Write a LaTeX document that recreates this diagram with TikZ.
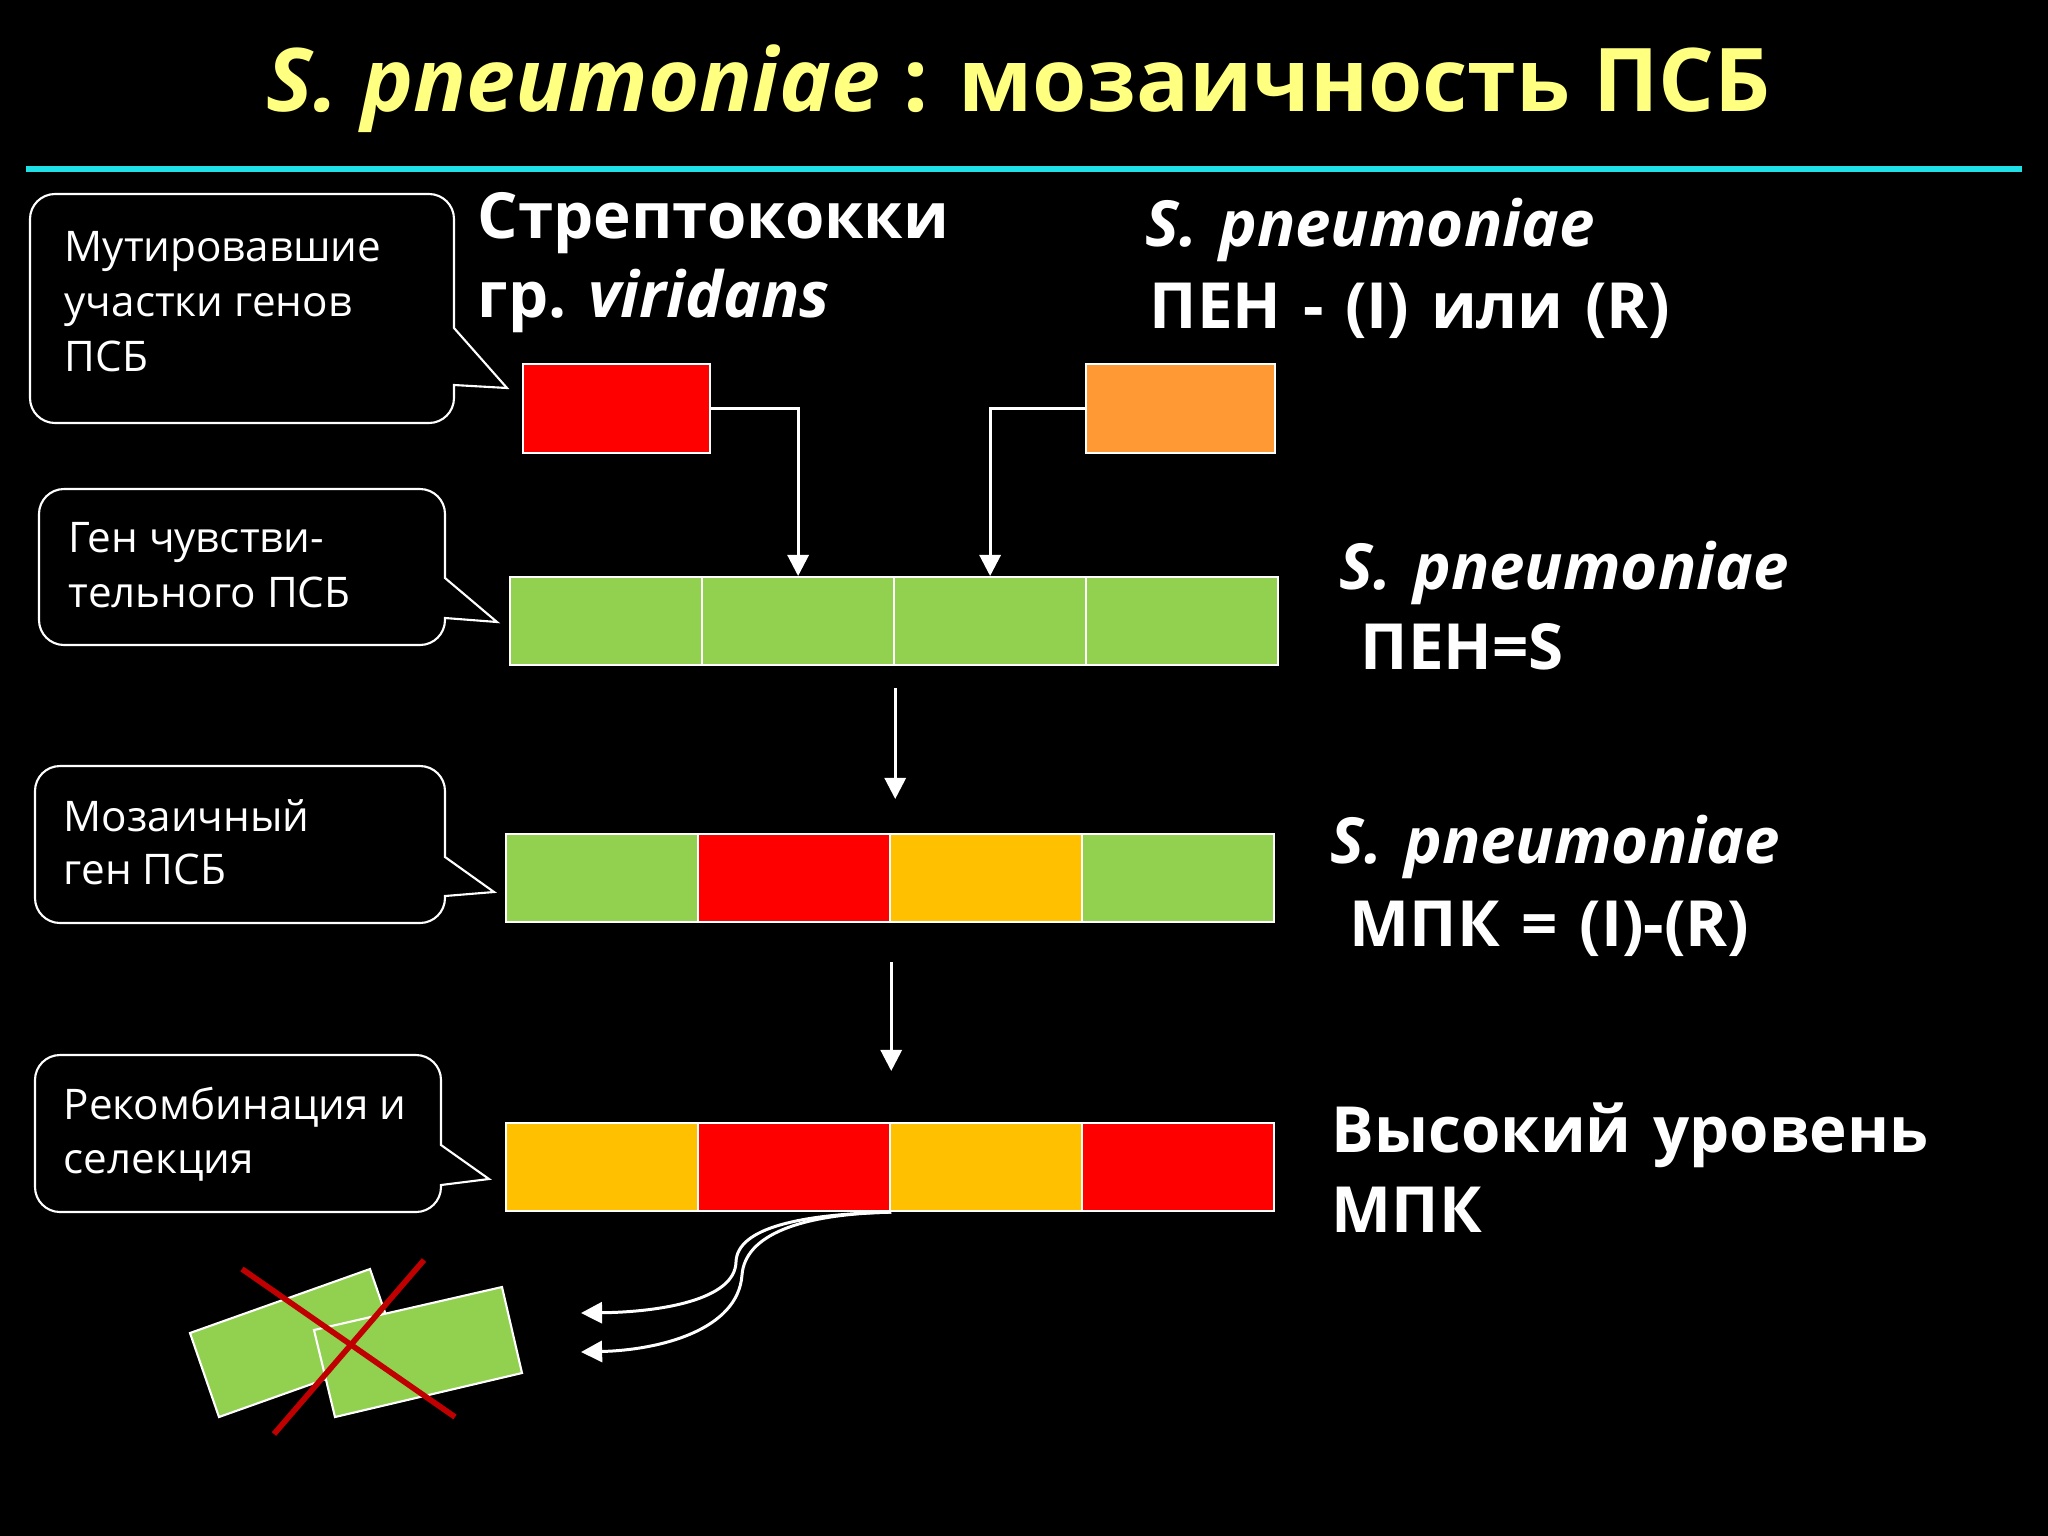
\documentclass[tikz,border=0pt]{standalone}
\usepackage{fontspec}
\setmainfont{Open Sans}
\usepackage{tikz}
\usetikzlibrary{arrows.meta}
\definecolor{genegreen}{HTML}{92D050}
\definecolor{genered}{HTML}{FF0000}
\definecolor{geneamber}{HTML}{FFC000}
\definecolor{geneorange}{HTML}{FF9933}
\definecolor{crossred}{HTML}{C00000}
\definecolor{titleyellow}{HTML}{FFFF80}
\definecolor{rulecyan}{HTML}{1EE0E6}
\newcommand\bigspacing{\frenchspacing\spaceskip 0.34em plus 0.1em\relax}
\tikzset{
  callout/.style={draw=white, line width=0.6pt, fill=black},
  ctext/.style={anchor=base west, inner sep=0pt, text=white,
                font=\fontsize{12}{15}\selectfont},
  btext/.style={anchor=base west, inner sep=0pt, text=white,
                font=\fontsize{18.1}{22}\selectfont\bfseries\bigspacing},
  seg/.style={draw=white, line width=0.6pt, minimum width=1.92cm, minimum height=0.88cm,
              inner sep=0pt, anchor=north west},
  arr/.style={-{Triangle[length=6pt, width=6pt]}, draw=white, line width=0.85pt},
  chip/.style={fill=genegreen, draw=white, line width=0.6pt},
}

\begin{document}
\begin{tikzpicture}[x=0.01cm, y=-0.01cm]
  \fill[black] (0,0) rectangle (2048,1536);
  \useasboundingbox (0,0) rectangle (2048,1536);
  % title and rule
  \node[anchor=base, inner sep=0pt, text=titleyellow, font=\fontsize{25}{30}\selectfont\bfseries]
    (title) at (1019,111) {\textit{S. pneumoniae} : мозаичность ПСБ};
  \coordinate (ruleL) at (26,169);
  \coordinate (ruleR) at (2022,169);
  \draw[rulecyan, line width=1.6pt] (ruleL) -- (ruleR);
  % callouts
  \draw[callout] (454,385) [rounded corners=0.25cm] -- (454,423) -- (30,423) -- (30,194) -- (454,194)
    [sharp corners] -- (454,328) -- (507,388) -- cycle;
  \draw[callout] (445,618) [rounded corners=0.25cm] -- (445,645) -- (39,645) -- (39,489) -- (445,489)
    [sharp corners] -- (445,578) -- (497,622) -- cycle;
  \draw[callout] (445,896) [rounded corners=0.25cm] -- (445,923) -- (35,923) -- (35,766) -- (445,766)
    [sharp corners] -- (445,857) -- (494,892) -- cycle;
  \draw[callout] (441,1185) [rounded corners=0.25cm] -- (441,1212) -- (35,1212) -- (35,1055) -- (441,1055)
    [sharp corners] -- (441,1145) -- (489,1179) -- cycle;
  \node[ctext] (mut1) at (64,261) {Мутировавшие};
  \node[ctext] (mut2) at (64,316) {участки генов};
  \node[ctext] (mut3) at (64,371) {ПСБ};
  \node[ctext] (sens1) at (68,552) {Ген чувстви-};
  \node[ctext] (sens2) at (68,607) {тельного ПСБ};
  \node[ctext] (mos1) at (63,831) {Мозаичный};
  \node[ctext] (mos2) at (63,884) {ген ПСБ};
  \node[ctext] (rec1) at (63,1119) {Рекомбинация и};
  \node[ctext] (rec2) at (63,1173) {селекция};
  % donor pieces
  \node[seg, fill=genered, minimum width=1.87cm, minimum height=0.89cm] (mutred) at (522,363) {};
  \node[seg, fill=geneorange, minimum width=1.89cm, minimum height=0.89cm] (mutorange) at (1085,363) {};
  % gene bars
  \foreach \i/\c in {1/genegreen, 2/genegreen, 3/genegreen, 4/genegreen}
    \node[seg, fill=\c] (g\i) at ({509+192*(\i-1)},576) {};
  \foreach \i/\c in {1/genegreen, 2/genered, 3/geneamber, 4/genegreen}
    \node[seg, fill=\c] (m\i) at ({505+192*(\i-1)},833) {};
  \foreach \i/\c in {1/geneamber, 2/genered, 3/geneamber, 4/genered}
    \node[seg, fill=\c] (s\i) at ({505+192*(\i-1)},1122) {};
  \draw[arr] (mutred.east) -| (g2.north);
  \draw[arr] (mutorange.west) -| (g3.north);
  \draw[arr, shorten <=0.22cm, shorten >=0.34cm] (g2.south east) -- (g2.south east |- m2.north);
  \draw[arr, shorten <=0.39cm, shorten >=0.51cm] (m2.south east) -- (m2.south east |- s2.north);
  % labels on the right
  \node[btext] (strep1) at (477,238) {Стрептококки};
  \node[btext] (strep2) at (477,317) {гр. \textit{viridans}};
  \node[btext] (pnr1) at (1145,246) {\textit{S. pneumoniae}};
  \node[btext] (pnr2) at (1149,328) {ПЕН - (I) или (R)};
  \node[btext] (pns1) at (1339,589) {\textit{S. pneumoniae}};
  \node[btext] (pns2) at (1360,669) {ПЕН=S};
  \node[btext] (pnm1) at (1330,863) {\textit{S. pneumoniae}};
  \node[btext] (pnm2) at (1349,946) {МПК = (I)-(R)};
  \node[btext] (high1) at (1331,1152) {Высокий уровень};
  \node[btext] (high2) at (1331,1232) {МПК};
  % discarded pieces
  \coordinate (back1) at (581,1313);
  \coordinate (back2) at (581,1352);
  \draw[arr] (s2.south east) .. controls (800,1214) and (737,1228) .. (736,1262)
    .. controls (735,1300) and (660,1312) .. (back1);
  \draw[arr] (s2.south east) .. controls (800,1214) and (745,1235) .. (742,1275)
    .. controls (738,1330) and (660,1350) .. (back2);
  \draw[chip] (190,1333) -- (370,1269) -- (399,1353) -- (219,1417) -- cycle;
  \draw[chip] (314,1330) -- (502,1287) -- (522,1373) -- (335,1417) -- cycle;
  \draw[crossred, line width=1.6pt] (242,1269) -- (455,1417);
  \draw[crossred, line width=1.6pt] (424,1260) -- (274,1434);
\end{tikzpicture}
\end{document}
